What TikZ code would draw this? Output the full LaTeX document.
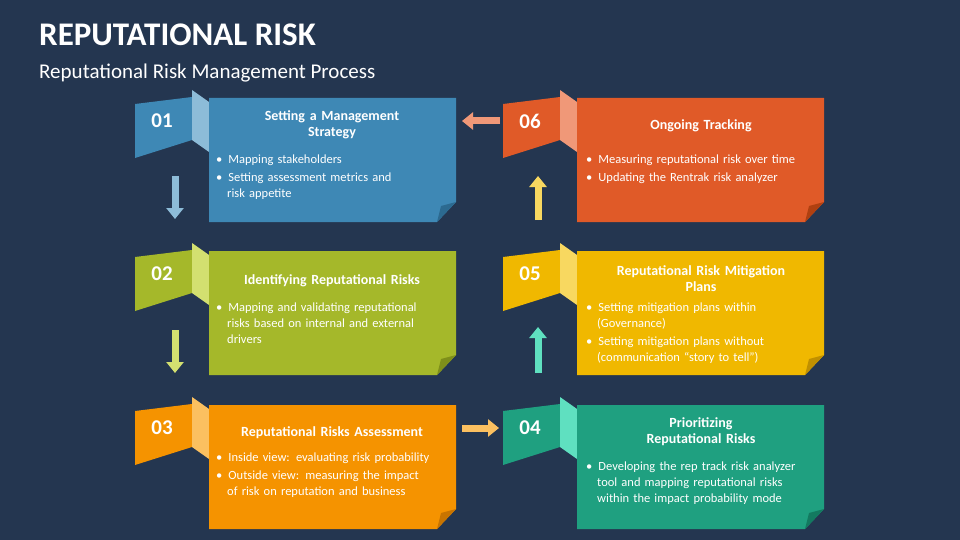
\documentclass[tikz,border=0pt]{standalone}
\usepackage{fontspec}
\setmainfont{Carlito}
\usetikzlibrary{arrows.meta}
\definecolor{bg}{HTML}{243650}
\definecolor{c1}{HTML}{3E88B5}\definecolor{f1}{HTML}{8DBCD8}\definecolor{d1}{HTML}{2C6A90}
\definecolor{c2}{HTML}{A5B82A}\definecolor{f2}{HTML}{D3E070}\definecolor{d2}{HTML}{7E8F1A}
\definecolor{c3}{HTML}{F59300}\definecolor{f3}{HTML}{FBC060}\definecolor{d3}{HTML}{C87400}
\definecolor{c4}{HTML}{1FA080}\definecolor{f4}{HTML}{5FE0C0}\definecolor{d4}{HTML}{137A60}
\definecolor{c5}{HTML}{F0B800}\definecolor{f5}{HTML}{F8D860}\definecolor{d5}{HTML}{C09000}
\definecolor{c6}{HTML}{E05A28}\definecolor{f6}{HTML}{F09878}\definecolor{d6}{HTML}{B04010}
\tikzset{
 ttl/.style={text=white,font=\bfseries\fontsize{14}{16}\selectfont,align=center,text width=210pt},
 bul/.style={text=white,font=\fontsize{12.5}{16}\selectfont,align=left,text width=240pt,anchor=north west,inner sep=0pt},
 num/.style={text=white,font=\bfseries\fontsize{21}{24}\selectfont},
 blk/.style={line width=7pt,-{Triangle[width=17pt,length=11pt]}}
}
% #1 x of tab, #2 y top of main, #3 color index, #4 number, #5 name
\newcommand{\mycard}[5]{%
 \fill[c#3] (#1,#2+6) -- (#1+57,#2-1) -- (#1+57,#2+42) -- (#1,#2+60) -- cycle;
 \fill[f#3] (#1+57,#2-8) -- (#1+74,#2+4) -- (#1+74,#2+54) -- (#1+57,#2+42) -- cycle;
 \fill[c#3] (#1+74,#2) -- (#1+321,#2) -- (#1+321,#2+104) -- (#1+302,#2+124) -- (#1+74,#2+124) -- cycle;
 \fill[d#3] (#1+321,#2+104) -- (#1+302,#2+124) -- (#1+306,#2+108) -- cycle;
 \node[num] (#5) at (#1+27,#2+23) {#4};
}
\begin{document}
\begin{tikzpicture}[x=1pt,y=-1pt]
\fill[bg] (0,0) rectangle (960,540);
\useasboundingbox (0,0) rectangle (960,540);
\node[anchor=west,text=white,font=\bfseries\fontsize{33}{36}\selectfont,inner sep=0pt] (title) at (39,35) {REPUTATIONAL RISK};
\node[anchor=west,text=white,font=\fontsize{21}{24}\selectfont,inner sep=0pt] (sub) at (39,73) {Reputational Risk Management Process};

\mycard{135}{98}{1}{01}{n1}
\mycard{135}{251}{2}{02}{n2}
\mycard{135}{405}{3}{03}{n3}
\mycard{503}{405}{4}{04}{n4}
\mycard{503}{251}{5}{05}{n5}
\mycard{503}{98}{6}{06}{n6}

\node[ttl] (t1) at (332,125) {Setting a Management\\Strategy};
\node[bul] (b1) at (216,155) {\textbullet\hspace{6pt}Mapping stakeholders\\[2pt]\textbullet\hspace{6pt}Setting assessment metrics and\\\hspace*{11pt}risk appetite};
\node[ttl] (t2) at (332,281) {Identifying Reputational Risks};
\node[bul] (b2) at (216,303) {\textbullet\hspace{6pt}Mapping and validating reputational\\\hspace*{11pt}risks based on internal and external\\\hspace*{11pt}drivers};
\node[ttl] (t3) at (332,433) {Reputational Risks Assessment};
\node[bul] (b3) at (216,453) {\textbullet\hspace{6pt}Inside view: evaluating risk probability\\[2pt]\textbullet\hspace{6pt}Outside view: measuring the impact\\\hspace*{11pt}of risk on reputation and business};
\node[ttl] (t4) at (701,432) {Prioritizing\\Reputational Risks};
\node[bul] (b4) at (586,462) {\textbullet\hspace{6pt}Developing the rep track risk analyzer\\\hspace*{11pt}tool and mapping reputational risks\\\hspace*{11pt}within the impact probability mode};
\node[ttl] (t5) at (701,279) {Reputational Risk Mitigation\\Plans};
\node[bul] (b5) at (586,303) {\textbullet\hspace{6pt}Setting mitigation plans within\\\hspace*{11pt}(Governance)\\[2pt]\textbullet\hspace{6pt}Setting mitigation plans without\\\hspace*{11pt}(communication “story to tell”)};
\node[ttl] (t6) at (701,126) {Ongoing Tracking};
\node[bul] (b6) at (586,155) {\textbullet\hspace{6pt}Measuring reputational risk over time\\[2pt]\textbullet\hspace{6pt}Updating the Rentrak risk analyzer};

\coordinate (a1s) at (175,176); \coordinate (a1e) at (175,219);
\coordinate (a2s) at (175,330); \coordinate (a2e) at (175,373);
\coordinate (a3s) at (462,428); \coordinate (a3e) at (499,428);
\coordinate (a4s) at (538,373); \coordinate (a4e) at (538,327);
\coordinate (a5s) at (538,220); \coordinate (a5e) at (538,176);
\coordinate (a6s) at (500,121); \coordinate (a6e) at (462,121);
\draw[blk,draw=f1,fill=f1] (a1s) -- (a1e);
\draw[blk,draw=f2,fill=f2] (a2s) -- (a2e);
\draw[blk,draw=f3,fill=f3] (a3s) -- (a3e);
\draw[blk,draw=f4,fill=f4] (a4s) -- (a4e);
\draw[blk,draw=f5,fill=f5] (a5s) -- (a5e);
\draw[blk,draw=f6,fill=f6] (a6s) -- (a6e);
\end{tikzpicture}
\end{document}
